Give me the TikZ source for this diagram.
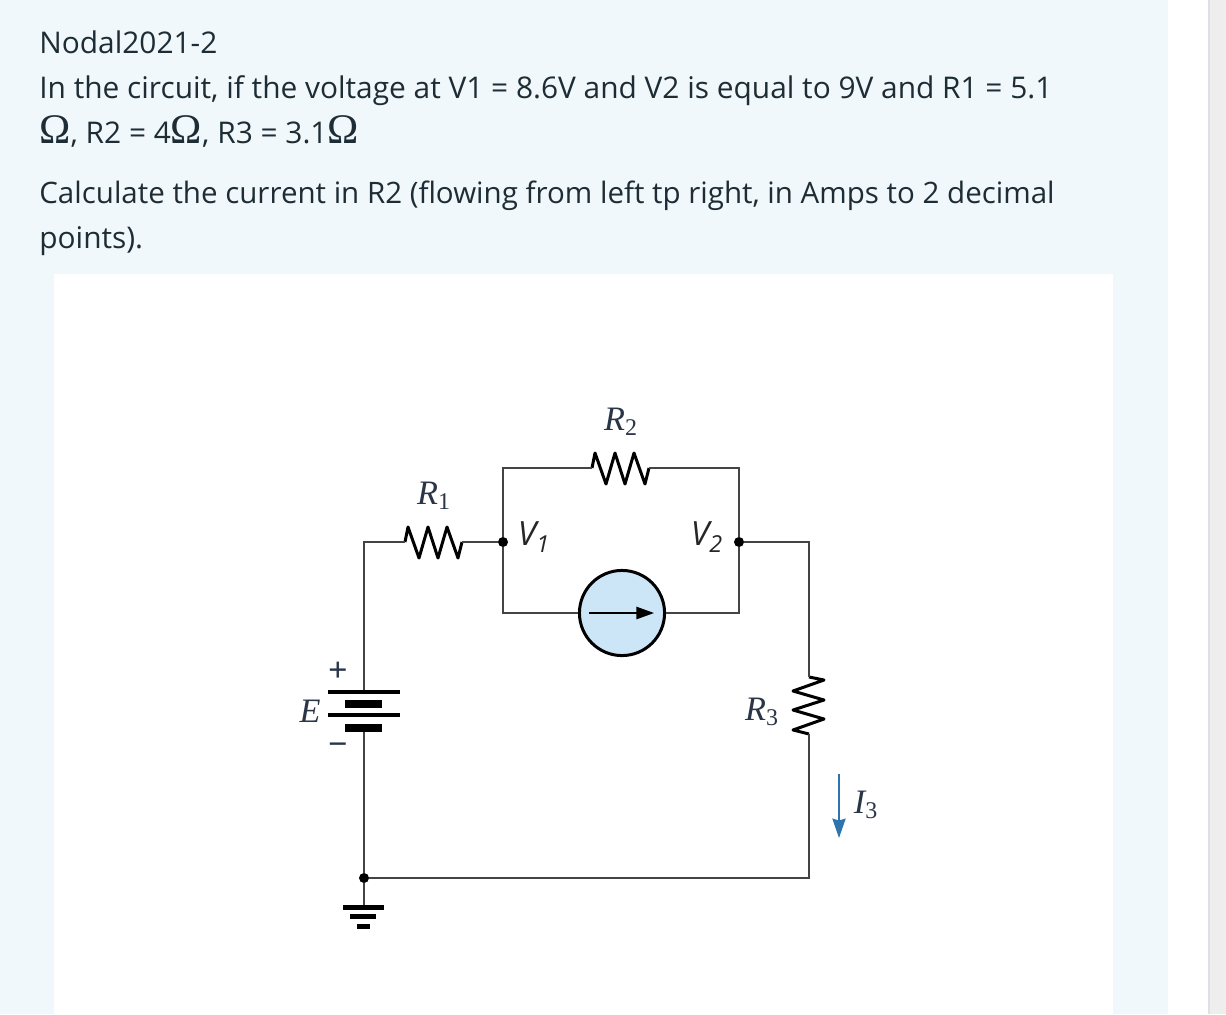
\documentclass[tikz,border=0pt]{standalone}
\usepackage{fontspec}
\usepackage{xcolor}
\setmainfont{Open Sans}
\newfontfamily\symbfont[Scale=1.41]{Liberation Serif}
\newfontfamily\partfont{Liberation Serif}
\usetikzlibrary{arrows.meta}
\definecolor{panelblue}{HTML}{F0F8FB}
\definecolor{bodytext}{HTML}{1E2D35}
\definecolor{wiregrey}{HTML}{444444}
\definecolor{srcblue}{HTML}{CDE6F7}
\definecolor{arrowblue}{HTML}{2E75B0}
\definecolor{barline}{HTML}{DDE1E5}
\definecolor{bargrey}{HTML}{EEEEEE}
\definecolor{labelnavy}{HTML}{2A3648}
\newcommand{\ohm}{{\symbfont Ω}}

\tikzset{
  bodyline/.style={anchor=base west,inner sep=0pt,text=bodytext,font=\fontsize{17}{20}\selectfont},
  partlabel/.style={inner sep=0pt,text=labelnavy,font=\partfont\itshape\fontsize{19.5}{22}\selectfont},
  signlabel/.style={inner sep=0pt,text=labelnavy,font=\partfont\bfseries\fontsize{19.5}{22}\selectfont},
  nodelabel/.style={inner sep=0pt,text=black!85,font=\itshape\fontsize{19}{22}\selectfont},
  wire/.style={draw=wiregrey,line width=2.4*0.57pt},
  plate/.style={draw=black,line width=#1*0.57pt},
  dotnode/.style={circle,fill=black,inner sep=0pt,minimum size=10*0.57pt},
  resistor/.pic={
    \draw[black,line width=3*0.57pt,line join=round] (0,0) -- (3,-15) -- (14,16) -- (23,-15)
      -- (33,16) -- (42,-15) -- (53,16) -- (57,0);
    \coordinate (-in) at (0,0);
    \coordinate (-out) at (57,0);
  }
}

\begin{document}
\begin{tikzpicture}[x=0.02cm,y=-0.02cm]
  \useasboundingbox (0,0) rectangle (1226,1014);
  % page
  \fill[panelblue] (0,0) rectangle (1168,1014);
  \fill[white] (54,274) rectangle (1113,1014);
  \fill[barline] (1208,0) rectangle (1210,1014);
  \fill[bargrey] (1210,0) rectangle (1226,1014);

  % question text
  \node[bodyline] (title) at (39,53) {Nodal2021-2};
  \node[bodyline] (line one) at (39,98) {In the circuit, if the voltage at V1 = 8.6V and V2 is equal to 9V and R1 = 5.1};
  \node[bodyline] (line two) at (39,143) {\ohm, R2 = 4\ohm, R3 = 3.1\ohm};
  \node[bodyline,font=\fontsize{16.8}{20}\selectfont] (line three) at (39,203) {Calculate the current in R2 (flowing from left tp right, in Amps to 2 decimal};
  \node[bodyline] (line four) at (39,248) {points).};

  % corners and junctions
  \node[dotnode] (v1) at (503,542) {};
  \node[dotnode] (v2) at (739,542) {};
  \node[dotnode] (gnd) at (364,878) {};
  \coordinate (corner e) at (364,542);
  \coordinate (corner r2l) at (503,468);
  \coordinate (corner r2r) at (739,468);
  \coordinate (corner sl) at (503,613);
  \coordinate (corner sr) at (739,613);
  \coordinate (corner r3) at (809,542);
  \coordinate (corner br) at (809,878);
  \coordinate (bat top) at (364,692);
  \coordinate (bat bottom) at (364,728);
  \coordinate (gnd top) at (364,907);

  % parts
  \pic (r1) at (405,542) {resistor};
  \pic (r2) at (592,468) {resistor};
  \pic[rotate=-90] (r3) at (809,677) {resistor};
  \node[circle,draw=black,line width=3*0.57pt,fill=srcblue,minimum size=85*0.57pt,inner sep=0pt] (src) at (622,613) {};
  \coordinate (src tail) at (589,613);
  \coordinate (src tip) at (654,613);

  % wires
  \draw[wire] (bat top) -- (corner e) -- (r1-in);
  \draw[wire] (r1-out) -- (v1);
  \draw[wire] (v1) -- (corner r2l) -- (r2-in);
  \draw[wire] (r2-out) -- (corner r2r) -- (v2);
  \draw[wire] (v1) -- (corner sl) -- (src);
  \draw[wire] (src) -- (corner sr) -- (v2);
  \draw[wire] (v2) -- (corner r3) -- (r3-in);
  \draw[wire] (r3-out) -- (corner br) -- (gnd);
  \draw[wire] (bat bottom) -- (gnd);
  \draw[wire] (gnd) -- (gnd top);
  \draw[black,line width=1.6*0.57pt,-{Stealth[length=10pt,width=7pt,inset=0pt]}] (src tail) -- (src tip);

  % battery
  \coordinate (p1) at (328,692); \coordinate (p2) at (400,692);
  \coordinate (p3) at (345,704); \coordinate (p4) at (382,704);
  \coordinate (p5) at (328,715); \coordinate (p6) at (400,715);
  \coordinate (p7) at (345,728); \coordinate (p8) at (382,728);
  \draw[plate=4] (p1) -- (p2);
  \draw[plate=8] (p3) -- (p4);
  \draw[plate=4] (p5) -- (p6);
  \draw[plate=8] (p7) -- (p8);

  % ground
  \coordinate (g1) at (343,907); \coordinate (g2) at (384,907);
  \coordinate (g3) at (350,916); \coordinate (g4) at (376,916);
  \coordinate (g5) at (357,926); \coordinate (g6) at (370,926);
  \draw[plate=5] (g1) -- (g2);
  \draw[plate=5] (g3) -- (g4);
  \draw[plate=5] (g5) -- (g6);

  % current arrow
  \coordinate (i3 tail) at (839,774);
  \coordinate (i3 tip) at (839,838);
  \draw[arrowblue,line width=1.8*0.57pt,-{Stealth[length=11pt,width=7.5pt,inset=1pt]}] (i3 tail) -- (i3 tip);

  % labels
  \node[partlabel] (r1 label) at (434,496) {R\textsubscript{\upshape 1}};
  \node[partlabel] (r2 label) at (621,422) {R\textsubscript{\upshape 2}};
  \node[partlabel] (r3 label) at (762,712) {R\textsubscript{\upshape 3}};
  \node[partlabel] (e label) at (310,711) {E};
  \node[partlabel] (i3 label) at (866,805) {I\textsubscript{\upshape 3}};
  \node[nodelabel] (v1 label) at (534,537) {V\textsubscript{1}};
  \node[nodelabel] (v2 label) at (707,537) {V\textsubscript{2}};
  \node[signlabel] (plus) at (338,672) {+};
  \node[signlabel] (minus) at (338,749) {−};
\end{tikzpicture}
\end{document}
